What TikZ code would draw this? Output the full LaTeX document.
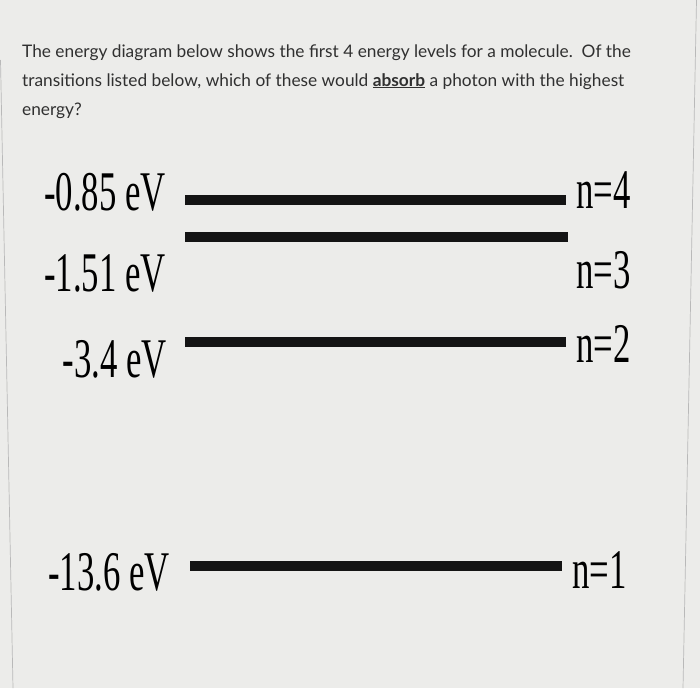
\documentclass[tikz,border=0pt]{standalone}
\usepackage{fontspec}
\setmainfont{Liberation Serif}
\newfontfamily\questfont{Lato}
\usepackage{xcolor}
\usetikzlibrary{positioning,calc}

\definecolor{paper}{RGB}{236,236,234}
\definecolor{ink}{RGB}{48,48,48}
\newcommand{\narrowtxt}[1]{\scalebox{0.62}[1]{#1}}

\begin{document}
\begin{tikzpicture}[x=1pt,y=-1pt,
      question/.style={
        anchor=base west,
        inner sep=0pt,
        font=\questfont\fontsize{17.3}{20}\selectfont,
        text=ink
      },
      elabel/.style={anchor=base east,inner sep=0pt,font=\fontsize{56}{60}\selectfont},
      nlabel/.style={anchor=base west,inner sep=0pt,font=\fontsize{56}{60}\selectfont},
      level/.style={line width=10.5pt,draw=black!92},
      frame/.style={draw=gray!55,line width=0.7pt}
    ]
    \useasboundingbox (0,0) rectangle (700,688);
    \fill[paper] (0,0) rectangle (700,688);
    \draw[frame] (0.5,60) -- (13,688);
    \draw[frame] (696.5,0) -- (683,688);

    % Question
    \node[question] (q1) at (22,57) {The energy diagram below shows the first 4 energy levels for a molecule.\ \ Of the};
    \node[question] (q2) at ($(q1.base west)+(0,29)$) {transitions listed below, which of these would \underline{\textbf{absorb}} a photon with the highest};
    \node[question] (q3) at ($(q2.base west)+(0,29)$) {energy?};

    % Energy values
    \node[elabel] (e4) at (166,210) {\narrowtxt{-0.85 eV}};
    \node[elabel] (e3) at (166,291) {\narrowtxt{-1.51 eV}};
    \node[elabel] (e2) at (167,377) {\narrowtxt{-3.4 eV}};
    \node[elabel] (e1) at (170,590) {\narrowtxt{-13.6 eV}};

    % Levels
    \draw[level] (185,200) coordinate (lv4a) -- (566,200) coordinate (lv4b);
    \draw[level] (185,237) coordinate (lv3a) -- (568,237) coordinate (lv3b);
    \draw[level] (185,342) coordinate (lv2a) -- (566,342) coordinate (lv2b);
    \draw[level] (190,566) coordinate (lv1a) -- (562,566) coordinate (lv1b);

    % Quantum numbers
    \node[nlabel] (n4) at (576,208) {\narrowtxt{n=4}};
    \node[nlabel] (n3) at (576,288) {\narrowtxt{n=3}};
    \node[nlabel] (n2) at (576,362) {\narrowtxt{n=2}};
    \node[nlabel] (n1) at (572,588) {\narrowtxt{n=1}};
  \end{tikzpicture}
\end{document}
